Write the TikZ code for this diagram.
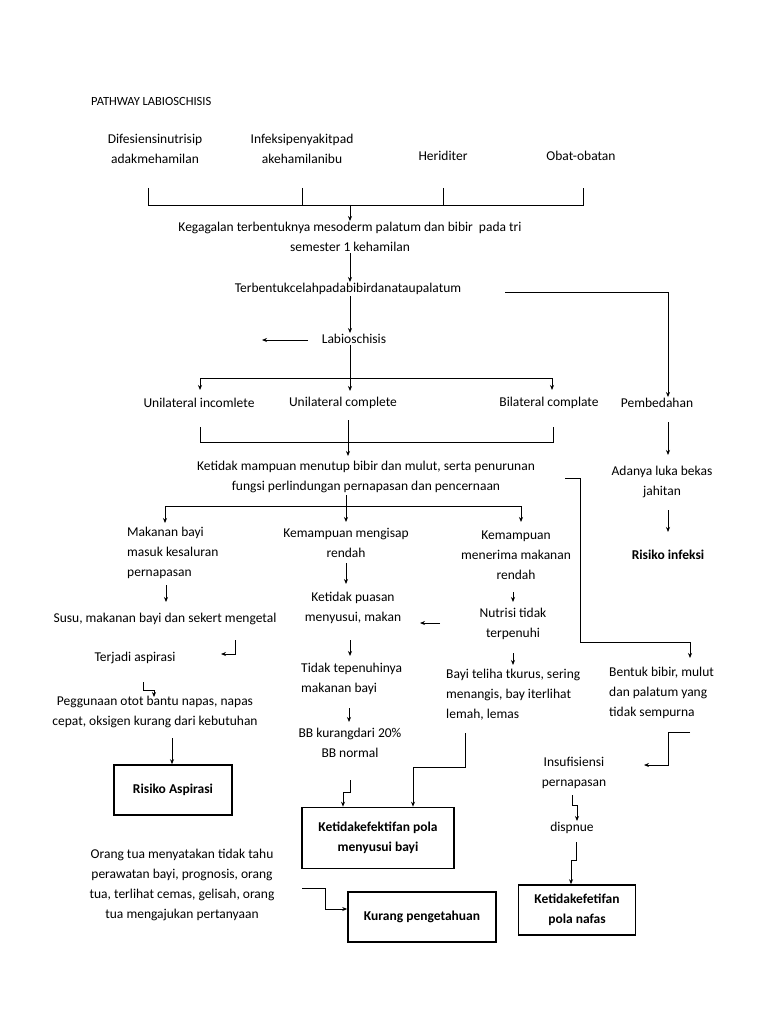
\documentclass[tikz,border=0pt]{standalone}
\usepackage{fontspec}
\setmainfont{Carlito}
\usetikzlibrary{arrows.meta}
\begin{document}
\begin{tikzpicture}[x=1pt,y=-1pt,
  t/.style={font=\fontsize{13.5}{20}\selectfont, align=center, inner sep=1pt},
  tl/.style={t, align=left, anchor=west},
  box/.style={draw, line width=1.6pt, font=\fontsize{13.5}{20}\selectfont\bfseries, align=center},
  a/.style={-{Stealth[length=5pt,width=4pt]}, line width=0.8pt},
  l/.style={line width=0.8pt}]
\useasboundingbox (0,0) rectangle (768,1024);
\node[tl, font=\fontsize{12.5}{14}\selectfont] (title) at (90,101) {PATHWAY LABIOSCHISIS};
\node[t] (c1) at (155,149) {Difesiensinutrisip\\adakmehamilan};
\node[t] (c2) at (302,149) {Infeksipenyakitpad\\akehamilanibu};
\node[t] (c3) at (443,156) {Heriditer};
\node[t] (c4) at (581,156) {Obat-obatan};
\draw[l] (148,188) -- (148,205) -- (583,205) -- (583,188);
\draw[l] (302,188) -- (302,205); \draw[l] (443,188) -- (443,205);
\coordinate (j1) at (350,205);
\node[t] (keg) at (350,237) {Kegagalan terbentuknya mesoderm palatum dan bibir\ \ pada tri\\semester 1 kehamilan};
\draw[a] (j1) -- (keg.north -| j1);
\node[t] (ter) at (348,289) {Terbentukcelahpadabibirdanataupalatum};
\draw[a] (keg.south -| j1) -- (ter.north -| j1);
\node[t] (lab) at (354,339) {Labioschisis};
\draw[a] (ter.south -| j1) -- (lab.north -| j1);
\coordinate (lw) at (262,340);
\draw[a] (308,340) -- (lw);
\node[t] (pem) at (657,403) {Pembedahan};
\draw[a] (505,292) -- (668,292) -- (pem.north -| 668,0);
\node[t] (u1) at (199,403) {Unilateral incomlete};
\node[t] (u2) at (343,403) {Unilateral complete};
\node[t] (u3) at (549,403) {Bilateral complate};
\draw[l] (200,378) -- (552,378);
\draw[a] (200,378) -- (200,390); \draw[a] (552,378) -- (552,390);
\draw[a] (lab.south -| j1) -- (350,391);
\draw[l] (200,427) -- (200,442) -- (553,442) -- (553,427);
\node[t] (ket) at (366,477) {Ketidak mampuan menutup bibir dan mulut, serta penurunan\\fungsi perlindungan pernapasan dan pencernaan};
\draw[a] (348,420) -- (348,456);
\node[t] (luk) at (662,482) {Adanya luka bekas\\jahitan};
\draw[a] (668,422) -- (668,455);
\node[t, font=\fontsize{13.5}{20}\selectfont\bfseries] (inf) at (668,555) {Risiko infeksi};
\draw[a] (668,510) -- (668,532);
% level 3
\draw[l] (346,495) -- (346,506);
\draw[l] (165,506) -- (521,506);
\node[tl] (m1) at (126,553) {Makanan bayi\\masuk kesaluran\\pernapasan};
\node[t] (m2) at (346,543) {Kemampuan mengisap\\rendah};
\node[t] (m3) at (516,555) {Kemampuan\\menerima makanan\\rendah};
\draw[a] (165,506) -- (165,523); \draw[a] (346,506) -- (346,522); \draw[a] (521,506) -- (521,522);
\draw[a] (565,478) -- (580,478) -- (580,642) -- (690,642) -- (690,658);
% column 1
\node[t] (susu) at (165,619) {Susu, makanan bayi dan sekert mengetal};
\draw[a] (166,585) -- (166,602);
\node[t] (asp) at (135,658) {Terjadi aspirasi};
\draw[a] (235,640) -- (235,654) -- (221,654);
\node[t] (peg) at (155,712) {Peggunaan otot bantu napas, napas\\cepat, oksigen kurang dari kebutuhan};
\draw[a] (143,682) -- (143,690) -- (154,690) -- (154,697);
\node[box, minimum width=118pt, minimum height=50pt] (ra) at (173,790) {Risiko Aspirasi};
\draw[a] (172,738) -- (ra.north -| 172,0);
% column 2
\node[t] (kp) at (353,608) {Ketidak puasan\\menyusui, makan};
\draw[a] (346,563) -- (346,584);
\draw[a] (440,623) -- (420,623);
\node[tl] (tt) at (300,679) {Tidak tepenuhinya\\makanan bayi};
\draw[a] (350,640) -- (350,656);
\node[t] (bb) at (350,743) {BB kurangdari 20\%\\BB normal};
\draw[a] (349,708) -- (349,722);
\node[box, minimum width=152pt, minimum height=61pt] (kpm) at (378,838) {Ketidakefektifan pola\\menyusui bayi};
\draw[a] (350,780) -- (350,792) -- (343,792) -- (kpm.north -| 343,0);
\draw[a] (465,733) -- (465,767) -- (413,767) -- (kpm.north -| 413,0);
% column 3
\node[t] (nut) at (513,624) {Nutrisi tidak\\terpenuhi};
\draw[a] (513,592) -- (513,602);
\node[tl] (bay) at (445,695) {Bayi teliha tkurus, sering\\menangis, bay iterlihat\\lemah, lemas};
\draw[a] (513,653) -- (513,665);
% column 4
\node[tl] (ben) at (608,693) {Bentuk bibir, mulut\\dan palatum yang\\tidak sempurna};
\node[t] (ins) at (574,773) {Insufisiensi\\pernapasan};
\draw[a] (690,732) -- (668,732) -- (668,765) -- (644,765);
\node[t] (dis) at (572,828) {dispnue};
\draw[a] (572,795) -- (572,805) -- (577,805) -- (dis.north -| 577,0);
\node[box, minimum width=117pt, minimum height=50pt] (kpn) at (577,910) {Ketidakefetifan\\pola nafas};
\draw[a] (576,842) -- (576,860) -- (571,860) -- (kpn.north -| 571,0);
% bottom
\node[t] (ort) at (182,885) {Orang tua menyatakan tidak tahu\\perawatan bayi, prognosis, orang\\tua, terlihat cemas, gelisah, orang\\tua mengajukan pertanyaan};
\node[box, minimum width=148pt, minimum height=50pt] (kur) at (422,917) {Kurang pengetahuan};
\draw[a] (302,888) -- (325,888) -- (325,909) -- (kur.west |- 0,909);
\end{tikzpicture}
\end{document}
